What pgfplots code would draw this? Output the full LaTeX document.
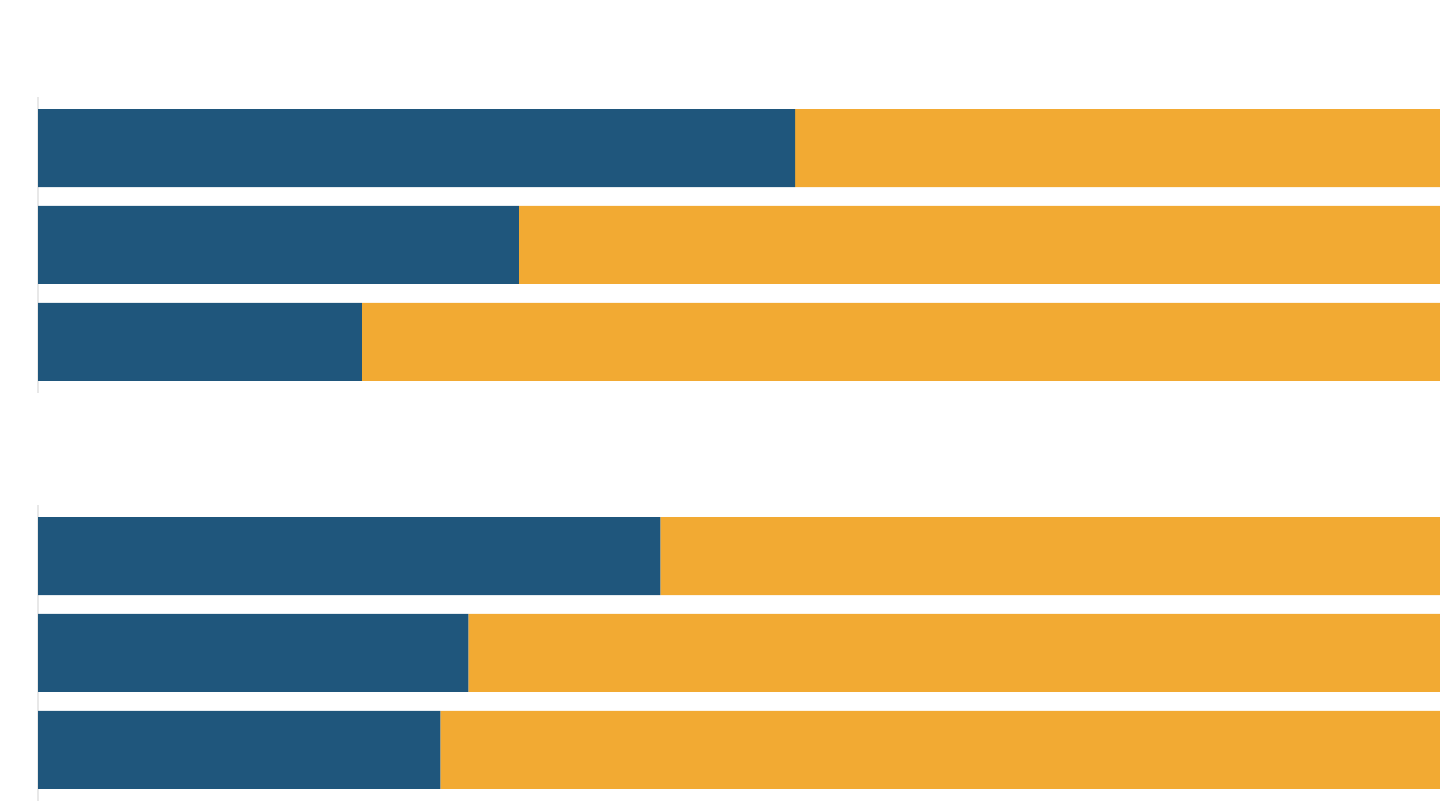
\documentclass[border=0pt]{standalone}
\usepackage{pgfplots}
\pgfplotsset{compat=1.18}
\definecolor{barblue}{RGB}{31,86,124}
\definecolor{barorange}{RGB}{242,170,51}
\definecolor{axisgray}{RGB}{232,232,232}
\pgfplotsset{
  mystyle/.style={
    xbar stacked,
    scale only axis,
    width=1402pt,
    height=296pt,
    xmin=0, xmax=100,
    ymin=-0.526, ymax=2.526,
    y dir=reverse,
    bar width=78pt,
    axis lines*=left,
    hide x axis,
    ytick=\empty,
    y axis line style={axisgray, line width=1.2pt},
    every axis plot/.append style={draw=none},
    clip=true,
  }
}
\begin{document}
\begin{tikzpicture}[x=1pt,y=1pt]
\path[use as bounding box] (0,0) rectangle (1440,810);
\begin{axis}[mystyle, at={(38pt,417pt)}, anchor=south west]
\addplot[fill=barblue, draw=none] coordinates {(54.0,0) (34.3,1) (23.1,2)};
\addplot[fill=barorange, draw=none] coordinates {(46.0,0) (65.7,1) (76.9,2)};
\end{axis}
\begin{axis}[mystyle, at={(38pt,9pt)}, anchor=south west]
\addplot[fill=barblue, draw=none] coordinates {(44.4,0) (30.7,1) (28.7,2)};
\addplot[fill=barorange, draw=none] coordinates {(55.6,0) (69.3,1) (71.3,2)};
\end{axis}
\end{tikzpicture}
\end{document}
